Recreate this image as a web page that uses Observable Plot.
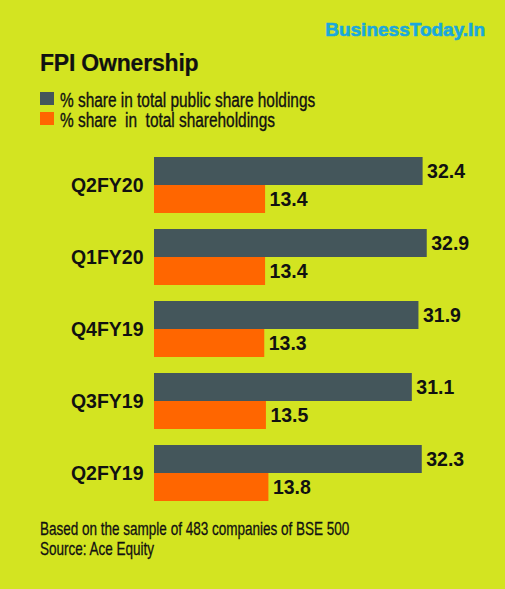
<!DOCTYPE html>
<html>
<head>
<meta charset="utf-8">
<script src="https://cdn.jsdelivr.net/npm/d3@7"></script>
<script src="https://cdn.jsdelivr.net/npm/@observablehq/plot@0.6"></script>
<style>
  html, body { margin: 0; padding: 0; background: #d3e421; }
  #wrap { position: relative; width: 505px; height: 589px; background: #d3e421; overflow: hidden; }
  #wrap svg { position: absolute; left: 0; top: 0; }
  .t { position: absolute; white-space: pre; line-height: 1; color: #111; }
  #logo { top: 19px; right: 20px; font: bold 19px "Liberation Sans", Arial, sans-serif; letter-spacing: 0px; color: #1ba8dc; -webkit-text-stroke: 0.6px #1ba8dc; }
  #title { top: 50px; left: 40px; font: bold 23px "Liberation Sans", Arial, sans-serif; letter-spacing: -0.2px; -webkit-text-stroke: 0.2px #111; }
  .leg { left: 40px; font: 19.5px "Liberation Sans", Arial, sans-serif; }
  .sw { position: absolute; left: 0; top: 3px; width: 14px; height: 13px; }
  .leg .tx { position: absolute; left: 20px; top: 0; display: inline-block; transform: scaleX(0.79); transform-origin: 0 50%; -webkit-text-stroke: 0.35px #111; }
  .foot { left: 40px; font: 18.5px "Liberation Sans", Arial, sans-serif; transform: scaleX(0.73); transform-origin: 0 50%; -webkit-text-stroke: 0.3px #111; }
</style>
</head>
<body>
<div id="wrap"></div>
<script>
const quarters = ["Q2FY20", "Q1FY20", "Q4FY19", "Q3FY19", "Q2FY19"];
const publicShare = [32.4, 32.9, 31.9, 31.1, 32.3];
const totalShare = [13.4, 13.4, 13.3, 13.5, 13.8];
const series = ["% share in total public share holdings", "% share  in  total shareholdings"];
const colors = ["#44565b", "#ff6600"];
const titleText = "FPI Ownership";
const logoText = "BusinessToday.In";
const notes = ["Based on the sample of 483 companies of BSE 500", "Source: Ace Equity"];

const data = [];
quarters.forEach((q, i) => {
  data.push({quarter: q, series: series[0], value: publicShare[i]});
  data.push({quarter: q, series: series[1], value: totalShare[i]});
});

const wrap = document.getElementById("wrap");

const chart = Plot.plot({
  width: 505,
  height: 589,
  marginTop: 157,
  marginBottom: 88,
  marginLeft: 154,
  marginRight: 19.4,
  style: {background: "transparent", fontFamily: "'Liberation Sans', Arial, sans-serif", overflow: "visible"},
  x: {domain: [0, 40], axis: null},
  y: {domain: series, axis: null, padding: 0, round: false},
  fy: {domain: quarters, paddingInner: 16 / 72, paddingOuter: 0, round: false, label: null},
  color: {domain: series, range: colors},
  marks: [
    Plot.barX(data, {x: "value", y: "series", fy: "quarter", fill: "series"}),
    Plot.text(data, {
      x: "value", y: "series", fy: "quarter",
      text: d => d.value.toFixed(1),
      textAnchor: "start", dx: 4,
      fontSize: 19.5, fontWeight: "bold", fill: "#111"
    }),
    Plot.axisFy({anchor: "left", tickSize: 0, tickPadding: 11, fontSize: 19.5, fontWeight: "bold", fill: "#111", label: null})
  ]
});
wrap.appendChild(chart);

function addText(cls, id, text, top) {
  const d = document.createElement("div");
  d.className = "t " + cls;
  if (id) d.id = id;
  d.textContent = text;
  if (top != null) d.style.top = top + "px";
  wrap.appendChild(d);
  return d;
}
addText("", "logo", logoText);
addText("", "title", titleText);
series.forEach((s, i) => {
  const d = document.createElement("div");
  d.className = "t leg";
  d.style.top = (89.2 + i * 20) + "px";
  const sw = document.createElement("span");
  sw.className = "sw";
  sw.style.background = colors[i];
  const tx = document.createElement("span");
  tx.className = "tx";
  tx.textContent = s;
  d.appendChild(sw);
  d.appendChild(tx);
  wrap.appendChild(d);
});
notes.forEach((n, i) => addText("foot", null, n, 518.3 + i * 20));
</script>
</body>
</html>
